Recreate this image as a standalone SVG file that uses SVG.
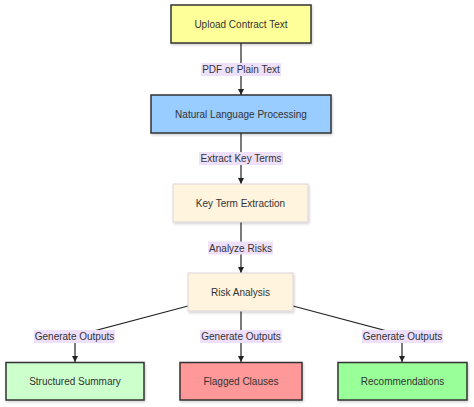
<svg xmlns="http://www.w3.org/2000/svg" width="474" height="407" viewBox="0 0 474 407">
<defs>
<marker id="arrow" viewBox="0 0 10 10" refX="10" refY="5" markerWidth="6" markerHeight="6" markerUnits="userSpaceOnUse" orient="auto">
<path d="M0,0 L10,5 L0,10 z" fill="#222"/>
</marker>
<filter id="sh" x="-10%" y="-10%" width="130%" height="140%">
<feDropShadow dx="1" dy="1.5" stdDeviation="1.2" flood-color="#000" flood-opacity="0.18"/>
</filter>
<style>
text { font-family: "Liberation Sans", Arial, sans-serif; font-size: 10px; fill: #333; text-anchor: middle; dominant-baseline: central; }
.node rect { stroke: #333; stroke-width: 1.5; filter: url(#sh); }
.soft rect { stroke: #ddd3dc; stroke-width: 1; }
.edge { fill: none; stroke: #222; stroke-width: 1.2; marker-end: url(#arrow); }
.lbl rect { fill: #eedffb; stroke: none; }
</style>
</defs>
<rect width="474" height="407" fill="#ffffff"/>
<g id="connectors">
<path class="edge" d="M241,43 L241,95"/>
<path class="edge" d="M241,133 L241,184"/>
<path class="edge" d="M241,222 L241,273"/>
<path class="edge" d="M188,306 L75,336 L75,362"/>
<path class="edge" d="M241,311 L241,362"/>
<path class="edge" d="M293,306 L402,335 L402,362"/>
<g class="lbl" id="label-pdf"><rect x="201" y="63" width="80" height="13"/><text x="241" y="69.5">PDF or Plain Text</text></g>
<g class="lbl" id="label-extract"><rect x="199" y="152" width="84" height="13"/><text x="241" y="158.5">Extract Key Terms</text></g>
<g class="lbl" id="label-analyze"><rect x="208" y="241.5" width="65" height="13"/><text x="240.5" y="248">Analyze Risks</text></g>
<g class="lbl" id="label-gen1"><rect x="34" y="330" width="81" height="13"/><text x="74.5" y="336.5">Generate Outputs</text></g>
<g class="lbl" id="label-gen2"><rect x="200" y="330" width="82" height="13"/><text x="241" y="336.5">Generate Outputs</text></g>
<g class="lbl" id="label-gen3"><rect x="362" y="330" width="81" height="13"/><text x="402.5" y="336.5">Generate Outputs</text></g>
</g>
<g id="upload" class="node"><rect x="171" y="5" width="140" height="38" fill="#ffff99"/><text x="241" y="24">Upload Contract Text</text></g>
<g id="nlp" class="node"><rect x="151" y="95" width="180" height="38" fill="#99ccff"/><text x="241" y="114">Natural Language Processing</text></g>
<g id="keyterm" class="node soft"><rect x="173" y="184" width="135" height="38" fill="#fff4de"/><text x="240.5" y="203">Key Term Extraction</text></g>
<g id="risk" class="node soft"><rect x="188" y="273" width="105" height="38" fill="#fff4de"/><text x="240.5" y="292">Risk Analysis</text></g>
<g id="summary" class="node"><rect x="6" y="362.5" width="138" height="37.5" fill="#ccffcc"/><text x="75" y="381">Structured Summary</text></g>
<g id="flagged" class="node"><rect x="180" y="362.5" width="122" height="37.5" fill="#ff9999"/><text x="241" y="381">Flagged Clauses</text></g>
<g id="recommendations" class="node"><rect x="338" y="362.5" width="129" height="37.5" fill="#99ff99"/><text x="402.5" y="381">Recommendations</text></g>
</svg>
